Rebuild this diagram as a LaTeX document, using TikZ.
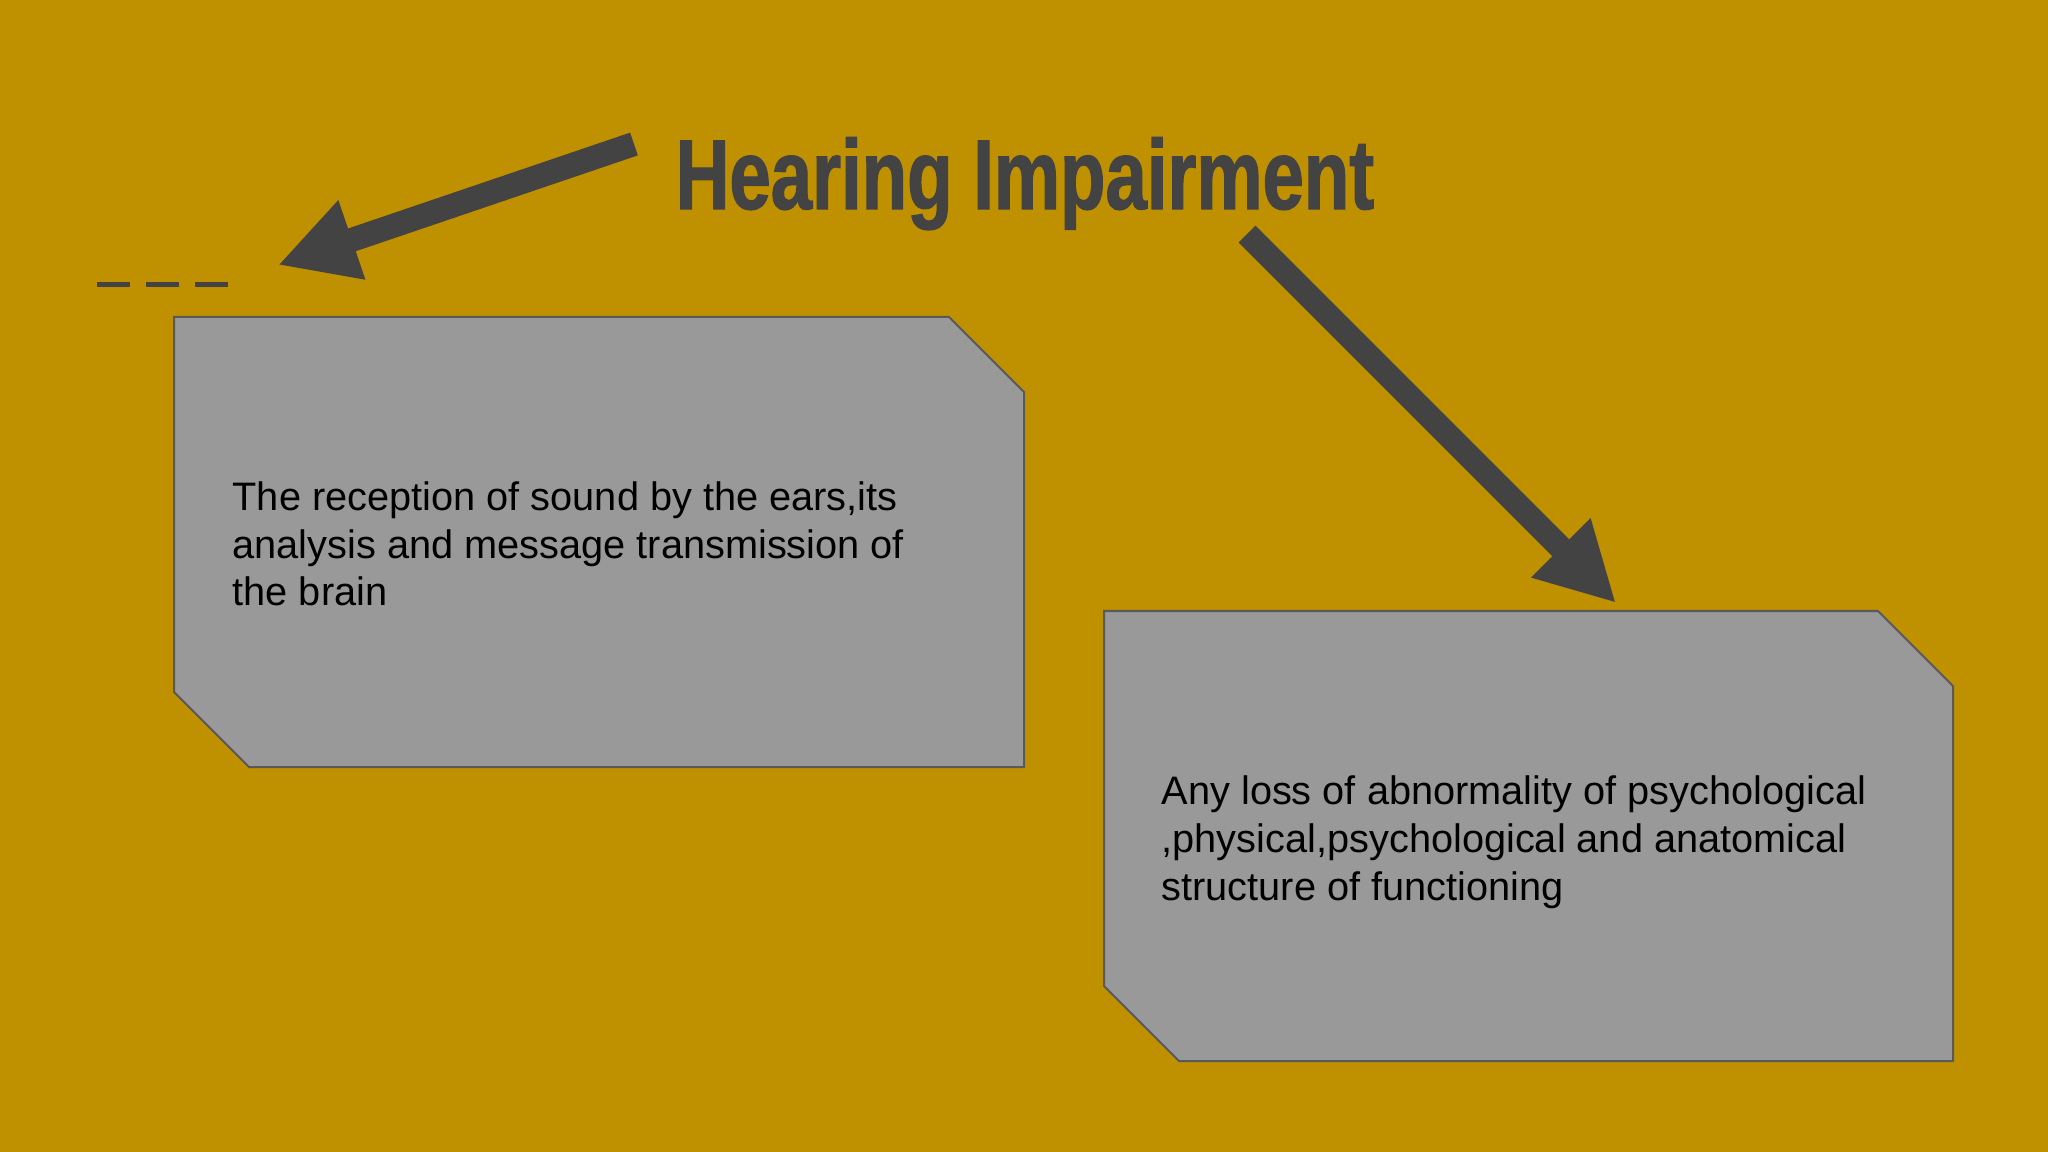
\documentclass[tikz,border=0pt]{standalone}
\usepackage{fontspec}
\setmainfont{Liberation Sans}
\newfontfamily\titlefont[FakeStretch=0.75, FakeBold=1.2]{Liberation Sans}
\usetikzlibrary{arrows.meta, positioning}
\definecolor{slidebg}{HTML}{BF9000}
\definecolor{ink}{HTML}{434343}
\definecolor{cardfill}{HTML}{999999}
\definecolor{cardline}{HTML}{595959}

\begin{document}
\begin{tikzpicture}[
  x=0.01cm, y=-0.01cm,
  card/.style={draw=cardline, fill=cardfill, line width=0.02cm},
  cardtext/.style={anchor=base west, inner sep=0, align=left, font=\fontsize{11.3}{13.6}\selectfont},
  bigarrow/.style={draw=ink, line width=0.24cm, -{Triangle[length=0.78cm, width=0.78cm]}},
  title/.style={anchor=base west, inner sep=0, text=ink, font=\titlefont\bfseries\fontsize{28.2}{30}\selectfont}
]
  \fill[slidebg] (0,0) rectangle (2048,1152);

  % Cards
  \draw[card] (174,317) -- (949,317) -- (1024,392) -- (1024,767) -- (249,767) -- (174,692) -- cycle;
  \draw[card] (1104,611) -- (1878,611) -- (1953,686) -- (1953,1061) -- (1179,1061) -- (1104,986) -- cycle;

  % base anchor sits on the last line
  \node[cardtext] (defn) at (232,606)
    {The reception of sound by the ears,its\\analysis and message transmission of\\the brain};
  \node[cardtext] (loss) at (1161,900)
    {Any loss of abnormality of psychological\\,physical,psychological and anatomical\\structure of functioning};

  \node[title] (head) at (675,209) {Hearing Impairment};

  % Arrows
  \coordinate (lefttail) at (634,144);
  \coordinate (lefttip) at (278,265);
  \coordinate (righttail) at (1247,234);
  \coordinate (righttip) at (1616,603);
  \draw[bigarrow] (lefttail) -- (lefttip);
  \draw[bigarrow] (righttail) -- (righttip);

  \coordinate (dashstart) at (97,285);
  \coordinate (dashend) at (229,285);
  \draw[ink, line width=0.05cm, dash pattern=on 0.33cm off 0.16cm] (dashstart) -- (dashend);
\end{tikzpicture}
\end{document}
